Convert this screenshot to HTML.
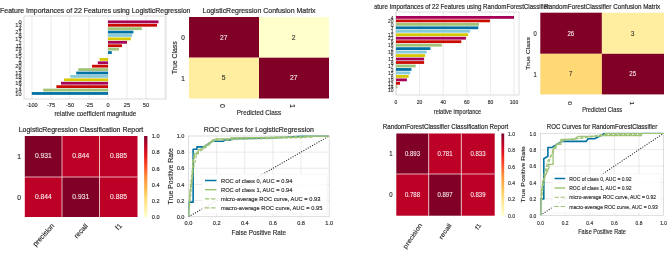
<!DOCTYPE html>
<html><head><meta charset="utf-8"><title>Model comparison</title>
<style>
html,body{margin:0;padding:0;background:#fff;}
body{width:669px;height:253px;overflow:hidden;}
svg{display:block;font-family:"Liberation Sans",sans-serif;filter:blur(0.7px);}
text{stroke:#2a2a2a;stroke-width:0.16px;stroke-opacity:0.9;}
text[font-size="7.9"]{stroke-width:0.22px;}
text[fill="#ffffff"]{stroke:#ffffff;stroke-opacity:0.7;}
</style></head><body>
<svg width="669" height="253" viewBox="0 0 669 253">
<rect width="669" height="253" fill="#ffffff"/>
<line x1="32.00" y1="16.00" x2="32.00" y2="99.00" stroke="#dcdcdc" stroke-width="0.6" />
<line x1="51.00" y1="16.00" x2="51.00" y2="99.00" stroke="#dcdcdc" stroke-width="0.6" />
<line x1="70.00" y1="16.00" x2="70.00" y2="99.00" stroke="#dcdcdc" stroke-width="0.6" />
<line x1="89.00" y1="16.00" x2="89.00" y2="99.00" stroke="#dcdcdc" stroke-width="0.6" />
<line x1="108.00" y1="16.00" x2="108.00" y2="99.00" stroke="#dcdcdc" stroke-width="0.6" />
<line x1="127.00" y1="16.00" x2="127.00" y2="99.00" stroke="#dcdcdc" stroke-width="0.6" />
<line x1="146.00" y1="16.00" x2="146.00" y2="99.00" stroke="#dcdcdc" stroke-width="0.6" />
<line x1="165.00" y1="16.00" x2="165.00" y2="99.00" stroke="#dcdcdc" stroke-width="0.6" />
<rect x="24.00" y="16.00" width="142.00" height="83.00" fill="none" stroke="#cfcfcf" stroke-width="0.7"/>
<rect x="108.00" y="20.45" width="50.50" height="2.80" fill="#a50258" />
<rect x="108.00" y="23.86" width="49.00" height="2.80" fill="#ca0b03" />
<rect x="108.00" y="27.27" width="33.80" height="2.80" fill="#9fc377" />
<rect x="108.00" y="30.68" width="25.40" height="2.80" fill="#0272a2" />
<rect x="108.00" y="34.09" width="24.10" height="2.80" fill="#88cada" />
<rect x="108.00" y="37.50" width="22.90" height="2.80" fill="#d7c703" />
<rect x="108.00" y="40.91" width="19.00" height="2.80" fill="#a50258" />
<rect x="108.00" y="44.32" width="14.00" height="2.80" fill="#ca0b03" />
<rect x="108.00" y="47.73" width="11.00" height="2.80" fill="#9fc377" />
<rect x="108.00" y="51.14" width="3.80" height="2.80" fill="#0272a2" />
<rect x="99.60" y="57.96" width="8.40" height="2.80" fill="#d7c703" />
<rect x="97.80" y="61.37" width="10.20" height="2.80" fill="#a50258" />
<rect x="92.00" y="64.78" width="16.00" height="2.80" fill="#ca0b03" />
<rect x="78.30" y="68.19" width="29.70" height="2.80" fill="#9fc377" />
<rect x="76.20" y="71.60" width="31.80" height="2.80" fill="#0272a2" />
<rect x="70.40" y="75.01" width="37.60" height="2.80" fill="#88cada" />
<rect x="64.00" y="78.42" width="44.00" height="2.80" fill="#d7c703" />
<rect x="61.00" y="81.83" width="47.00" height="2.80" fill="#a50258" />
<rect x="56.40" y="85.24" width="51.60" height="2.80" fill="#ca0b03" />
<rect x="43.20" y="88.65" width="64.80" height="2.80" fill="#9fc377" />
<rect x="31.80" y="92.06" width="76.20" height="2.80" fill="#0272a2" />
<text transform="translate(32.00,107.20) scale(0.92,1)" font-size="6.1" text-anchor="middle" fill="#2a2a2a" >-100</text>
<text transform="translate(51.00,107.20) scale(0.92,1)" font-size="6.1" text-anchor="middle" fill="#2a2a2a" >-75</text>
<text transform="translate(70.00,107.20) scale(0.92,1)" font-size="6.1" text-anchor="middle" fill="#2a2a2a" >-50</text>
<text transform="translate(89.00,107.20) scale(0.92,1)" font-size="6.1" text-anchor="middle" fill="#2a2a2a" >-25</text>
<text transform="translate(108.00,107.20) scale(0.92,1)" font-size="6.1" text-anchor="middle" fill="#2a2a2a" >0</text>
<text transform="translate(127.00,107.20) scale(0.92,1)" font-size="6.1" text-anchor="middle" fill="#2a2a2a" >25</text>
<text transform="translate(146.00,107.20) scale(0.92,1)" font-size="6.1" text-anchor="middle" fill="#2a2a2a" >50</text>
<text transform="translate(95.40,116.48) scale(0.92,1)" font-size="6.9" text-anchor="middle" fill="#2a2a2a" >relative coefficient magnitude</text>
<text transform="translate(95.30,13.00) scale(0.8827341772151899,1)" font-size="7.9" text-anchor="middle" fill="#2a2a2a" >Feature Importances of 22 Features using LogisticRegression</text>
<text transform="translate(21.60,24.05) scale(0.92,1)" font-size="6.1" text-anchor="end" fill="#2a2a2a" fill-opacity="0.9" style="stroke-width:0.14px">0</text>
<text transform="translate(21.60,27.46) scale(0.92,1)" font-size="6.1" text-anchor="end" fill="#2a2a2a" fill-opacity="0.9" style="stroke-width:0.14px">13</text>
<text transform="translate(21.60,30.87) scale(0.92,1)" font-size="6.1" text-anchor="end" fill="#2a2a2a" fill-opacity="0.9" style="stroke-width:0.14px">4</text>
<text transform="translate(21.60,34.28) scale(0.92,1)" font-size="6.1" text-anchor="end" fill="#2a2a2a" fill-opacity="0.9" style="stroke-width:0.14px">21</text>
<text transform="translate(21.60,37.69) scale(0.92,1)" font-size="6.1" text-anchor="end" fill="#2a2a2a" fill-opacity="0.9" style="stroke-width:0.14px">8</text>
<text transform="translate(21.60,41.10) scale(0.92,1)" font-size="6.1" text-anchor="end" fill="#2a2a2a" fill-opacity="0.9" style="stroke-width:0.14px">17</text>
<text transform="translate(21.60,44.51) scale(0.92,1)" font-size="6.1" text-anchor="end" fill="#2a2a2a" fill-opacity="0.9" style="stroke-width:0.14px">2</text>
<text transform="translate(21.60,47.92) scale(0.92,1)" font-size="6.1" text-anchor="end" fill="#2a2a2a" fill-opacity="0.9" style="stroke-width:0.14px">11</text>
<text transform="translate(21.60,51.33) scale(0.92,1)" font-size="6.1" text-anchor="end" fill="#2a2a2a" fill-opacity="0.9" style="stroke-width:0.14px">19</text>
<text transform="translate(21.60,54.74) scale(0.92,1)" font-size="6.1" text-anchor="end" fill="#2a2a2a" fill-opacity="0.9" style="stroke-width:0.14px">6</text>
<text transform="translate(21.60,58.15) scale(0.92,1)" font-size="6.1" text-anchor="end" fill="#2a2a2a" fill-opacity="0.9" style="stroke-width:0.14px">15</text>
<text transform="translate(21.60,61.56) scale(0.92,1)" font-size="6.1" text-anchor="end" fill="#2a2a2a" fill-opacity="0.9" style="stroke-width:0.14px">1</text>
<text transform="translate(21.60,64.97) scale(0.92,1)" font-size="6.1" text-anchor="end" fill="#2a2a2a" fill-opacity="0.9" style="stroke-width:0.14px">9</text>
<text transform="translate(21.60,68.38) scale(0.92,1)" font-size="6.1" text-anchor="end" fill="#2a2a2a" fill-opacity="0.9" style="stroke-width:0.14px">20</text>
<text transform="translate(21.60,71.79) scale(0.92,1)" font-size="6.1" text-anchor="end" fill="#2a2a2a" fill-opacity="0.9" style="stroke-width:0.14px">5</text>
<text transform="translate(21.60,75.20) scale(0.92,1)" font-size="6.1" text-anchor="end" fill="#2a2a2a" fill-opacity="0.9" style="stroke-width:0.14px">12</text>
<text transform="translate(21.60,78.61) scale(0.92,1)" font-size="6.1" text-anchor="end" fill="#2a2a2a" fill-opacity="0.9" style="stroke-width:0.14px">18</text>
<text transform="translate(21.60,82.02) scale(0.92,1)" font-size="6.1" text-anchor="end" fill="#2a2a2a" fill-opacity="0.9" style="stroke-width:0.14px">3</text>
<text transform="translate(21.60,85.43) scale(0.92,1)" font-size="6.1" text-anchor="end" fill="#2a2a2a" fill-opacity="0.9" style="stroke-width:0.14px">16</text>
<text transform="translate(21.60,88.84) scale(0.92,1)" font-size="6.1" text-anchor="end" fill="#2a2a2a" fill-opacity="0.9" style="stroke-width:0.14px">7</text>
<text transform="translate(21.60,92.25) scale(0.92,1)" font-size="6.1" text-anchor="end" fill="#2a2a2a" fill-opacity="0.9" style="stroke-width:0.14px">14</text>
<text transform="translate(21.60,95.66) scale(0.92,1)" font-size="6.1" text-anchor="end" fill="#2a2a2a" fill-opacity="0.9" style="stroke-width:0.14px">10</text>
<rect x="189.00" y="17.00" width="70.00" height="40.70" fill="#800026" />
<rect x="259.00" y="17.00" width="70.00" height="40.70" fill="#ffffcc" />
<rect x="189.00" y="57.70" width="70.00" height="40.80" fill="#ffeda0" />
<rect x="259.00" y="57.70" width="70.00" height="40.80" fill="#800026" />
<text transform="translate(223.70,39.66) scale(0.8648,1)" font-size="7.8" text-anchor="middle" fill="#ffffff" fill-opacity="0.88">27</text>
<text transform="translate(293.70,39.66) scale(0.8648,1)" font-size="7.8" text-anchor="middle" fill="#222" fill-opacity="0.88">2</text>
<text transform="translate(223.70,80.41) scale(0.8648,1)" font-size="7.8" text-anchor="middle" fill="#222" fill-opacity="0.88">5</text>
<text transform="translate(293.70,80.41) scale(0.8648,1)" font-size="7.8" text-anchor="middle" fill="#ffffff" fill-opacity="0.88">27</text>
<text transform="translate(259.00,13.00) scale(0.8827341772151899,1)" font-size="7.9" text-anchor="middle" fill="#2a2a2a" >LogisticRegression Confusion Matrix</text>
<text transform="translate(183.00,39.87) scale(0.92,1)" font-size="7.0" text-anchor="middle" fill="#2a2a2a" >0</text>
<text transform="translate(183.00,80.62) scale(0.92,1)" font-size="7.0" text-anchor="middle" fill="#2a2a2a" >1</text>
<text transform="translate(175.00,57.75) rotate(-90) scale(1,0.92)" font-size="6.9" text-anchor="middle" fill="#2a2a2a" dy="2.4">True Class</text>
<text transform="translate(222.71,106.00) rotate(90) scale(1,0.92)" font-size="7.0" text-anchor="middle" fill="#2a2a2a" dy="2.5">0</text>
<text transform="translate(292.71,106.00) rotate(90) scale(1,0.92)" font-size="7.0" text-anchor="middle" fill="#2a2a2a" dy="2.5">1</text>
<text transform="translate(259.00,114.88) scale(0.92,1)" font-size="6.9" text-anchor="middle" fill="#2a2a2a" >Predicted Class</text>
<rect x="24.80" y="136.00" width="37.20" height="41.00" fill="#800026" />
<text transform="translate(43.40,158.41) scale(0.8648,1)" font-size="7.8" text-anchor="middle" fill="#ffffff" fill-opacity="0.88">0.931</text>
<rect x="62.00" y="136.00" width="37.50" height="41.00" fill="#bd0026" />
<text transform="translate(80.75,158.41) scale(0.8648,1)" font-size="7.8" text-anchor="middle" fill="#ffffff" fill-opacity="0.88">0.844</text>
<rect x="99.50" y="136.00" width="38.00" height="41.00" fill="#bd0026" />
<text transform="translate(118.50,158.41) scale(0.8648,1)" font-size="7.8" text-anchor="middle" fill="#ffffff" fill-opacity="0.88">0.885</text>
<rect x="24.80" y="177.00" width="37.20" height="40.00" fill="#bd0026" />
<text transform="translate(43.40,198.91) scale(0.8648,1)" font-size="7.8" text-anchor="middle" fill="#ffffff" fill-opacity="0.88">0.844</text>
<rect x="62.00" y="177.00" width="37.50" height="40.00" fill="#800026" />
<text transform="translate(80.75,198.91) scale(0.8648,1)" font-size="7.8" text-anchor="middle" fill="#ffffff" fill-opacity="0.88">0.931</text>
<rect x="99.50" y="177.00" width="38.00" height="40.00" fill="#bd0026" />
<text transform="translate(118.50,198.91) scale(0.8648,1)" font-size="7.8" text-anchor="middle" fill="#ffffff" fill-opacity="0.88">0.885</text>
<line x1="62.00" y1="136.00" x2="62.00" y2="217.00" stroke="#f3d9dc" stroke-width="0.8" />
<line x1="99.50" y1="136.00" x2="99.50" y2="217.00" stroke="#f3d9dc" stroke-width="0.8" />
<line x1="24.80" y1="177.00" x2="137.50" y2="177.00" stroke="#f3d9dc" stroke-width="0.8" />
<text transform="translate(81.00,132.00) scale(0.8827341772151899,1)" font-size="7.9" text-anchor="middle" fill="#2a2a2a" >LogisticRegression Classification Report</text>
<text transform="translate(19.00,159.13) scale(0.92,1)" font-size="7.3" text-anchor="middle" fill="#2a2a2a" >1</text>
<text transform="translate(19.00,199.63) scale(0.92,1)" font-size="7.3" text-anchor="middle" fill="#2a2a2a" >0</text>
<linearGradient id="cb24" x1="0" y1="0" x2="0" y2="1"><stop offset="0.000" stop-color="#800026"/><stop offset="0.125" stop-color="#bd0026"/><stop offset="0.250" stop-color="#e31a1c"/><stop offset="0.375" stop-color="#fc4e2a"/><stop offset="0.500" stop-color="#fd8d3c"/><stop offset="0.625" stop-color="#feb24c"/><stop offset="0.750" stop-color="#fed976"/><stop offset="0.875" stop-color="#ffeda0"/><stop offset="1.000" stop-color="#ffffcc"/></linearGradient>
<rect x="144.10" y="136.00" width="3.30" height="81.00" fill="url(#cb24)" />
<text transform="translate(151.80,219.20) scale(0.92,1)" font-size="6.1" text-anchor="start" fill="#2a2a2a" >0.0</text>
<text transform="translate(151.80,203.00) scale(0.92,1)" font-size="6.1" text-anchor="start" fill="#2a2a2a" >0.2</text>
<text transform="translate(151.80,186.80) scale(0.92,1)" font-size="6.1" text-anchor="start" fill="#2a2a2a" >0.4</text>
<text transform="translate(151.80,170.60) scale(0.92,1)" font-size="6.1" text-anchor="start" fill="#2a2a2a" >0.6</text>
<text transform="translate(151.80,154.40) scale(0.92,1)" font-size="6.1" text-anchor="start" fill="#2a2a2a" >0.8</text>
<text transform="translate(151.80,138.20) scale(0.92,1)" font-size="6.1" text-anchor="start" fill="#2a2a2a" >1.0</text>
<text transform="translate(43.40,234.83) rotate(-47.4) scale(0.961,0.958)" font-size="7.3" text-anchor="middle" fill="#2a2a2a" dy="2.6">precision</text>
<text transform="translate(80.75,230.83) rotate(-47.4) scale(0.961,0.958)" font-size="7.3" text-anchor="middle" fill="#2a2a2a" dy="2.6">recall</text>
<text transform="translate(118.50,226.67) rotate(-47.4) scale(0.961,0.958)" font-size="7.3" text-anchor="middle" fill="#2a2a2a" dy="2.6">f1</text>
<line x1="216.64" y1="136.00" x2="216.64" y2="216.70" stroke="#dcdcdc" stroke-width="0.6" />
<line x1="188.50" y1="152.14" x2="329.20" y2="152.14" stroke="#dcdcdc" stroke-width="0.6" />
<line x1="244.78" y1="136.00" x2="244.78" y2="216.70" stroke="#dcdcdc" stroke-width="0.6" />
<line x1="188.50" y1="168.28" x2="329.20" y2="168.28" stroke="#dcdcdc" stroke-width="0.6" />
<line x1="272.92" y1="136.00" x2="272.92" y2="216.70" stroke="#dcdcdc" stroke-width="0.6" />
<line x1="188.50" y1="184.42" x2="329.20" y2="184.42" stroke="#dcdcdc" stroke-width="0.6" />
<line x1="301.06" y1="136.00" x2="301.06" y2="216.70" stroke="#dcdcdc" stroke-width="0.6" />
<line x1="188.50" y1="200.56" x2="329.20" y2="200.56" stroke="#dcdcdc" stroke-width="0.6" />
<rect x="188.50" y="136.00" width="140.70" height="80.70" fill="none" stroke="#cfcfcf" stroke-width="0.7"/>
<clipPath id="clip188"><rect x="188.5" y="135.4" width="140.7" height="81.29999999999998"/></clipPath><g clip-path="url(#clip188)">
<line x1="188.50" y1="216.70" x2="329.20" y2="136.00" stroke="#1a1a1a" stroke-width="1.05" stroke-dasharray="1.0 1.5"/>
<path d="M188.50,216.70 L188.50,202.17 L193.14,202.17 L193.14,149.32 L196.94,149.32 L196.94,146.89 L203.98,146.89 L206.79,144.88 L212.42,141.25 L223.68,141.25 L223.68,140.03 L230.71,140.03 L230.71,138.82 L258.85,138.26 L286.99,137.21 L301.06,136.00 L329.20,136.00" fill="none" stroke="#0272a2" stroke-width="1.6"  opacity="1" stroke-linejoin="round"/>
<path d="M188.50,216.70 L189.91,192.49 L192.44,176.35 L192.72,160.21 L194.13,158.60 L194.13,153.75 L198.35,153.75 L198.35,149.72 L202.57,148.91 L205.38,145.68 L209.60,144.07 L212.42,140.03 L216.64,138.82 L230.71,138.82 L230.71,138.02 L258.85,137.61 L303.87,137.21 L304.58,136.00 L329.20,136.00" fill="none" stroke="#9fc377" stroke-width="1.3"  opacity="1" stroke-linejoin="round"/>
<path d="M188.50,216.70 L190.61,184.42 L192.72,166.67 L194.13,156.18 L198.35,152.14 L202.57,147.30 L209.60,142.46 L216.64,140.44 L244.78,139.23 L286.99,138.02 L312.32,137.21 L315.13,136.00 L329.20,136.00" fill="none" stroke="#9fc377" stroke-width="1.25" stroke-dasharray="3.4 1.5" opacity="0.95" stroke-linejoin="round"/>
<path d="M188.50,216.70 L191.31,188.45 L193.42,168.28 L195.53,160.21 L196.94,152.14 L201.16,150.53 L208.20,145.68 L213.83,139.63 L230.71,138.42 L272.92,137.21 L309.50,136.40 L315.13,136.00 L329.20,136.00" fill="none" stroke="#9fc377" stroke-width="1.25" stroke-dasharray="3.4 1.5" opacity="0.95" stroke-linejoin="round"/>
</g>
<text transform="translate(184.50,218.90) scale(0.92,1)" font-size="6.1" text-anchor="end" fill="#2a2a2a" >0.0</text>
<text transform="translate(188.50,225.20) scale(0.92,1)" font-size="6.1" text-anchor="middle" fill="#2a2a2a" >0.0</text>
<text transform="translate(184.50,202.76) scale(0.92,1)" font-size="6.1" text-anchor="end" fill="#2a2a2a" >0.2</text>
<text transform="translate(216.64,225.20) scale(0.92,1)" font-size="6.1" text-anchor="middle" fill="#2a2a2a" >0.2</text>
<text transform="translate(184.50,186.62) scale(0.92,1)" font-size="6.1" text-anchor="end" fill="#2a2a2a" >0.4</text>
<text transform="translate(244.78,225.20) scale(0.92,1)" font-size="6.1" text-anchor="middle" fill="#2a2a2a" >0.4</text>
<text transform="translate(184.50,170.48) scale(0.92,1)" font-size="6.1" text-anchor="end" fill="#2a2a2a" >0.6</text>
<text transform="translate(272.92,225.20) scale(0.92,1)" font-size="6.1" text-anchor="middle" fill="#2a2a2a" >0.6</text>
<text transform="translate(184.50,154.34) scale(0.92,1)" font-size="6.1" text-anchor="end" fill="#2a2a2a" >0.8</text>
<text transform="translate(301.06,225.20) scale(0.92,1)" font-size="6.1" text-anchor="middle" fill="#2a2a2a" >0.8</text>
<text transform="translate(184.50,138.20) scale(0.92,1)" font-size="6.1" text-anchor="end" fill="#2a2a2a" >1.0</text>
<text transform="translate(329.20,225.20) scale(0.92,1)" font-size="6.1" text-anchor="middle" fill="#2a2a2a" >1.0</text>
<text transform="translate(258.85,132.00) scale(0.8827341772151899,1)" font-size="7.9" text-anchor="middle" fill="#2a2a2a" >ROC Curves for LogisticRegression</text>
<text transform="translate(258.85,235.48) scale(0.92,1)" font-size="6.9" text-anchor="middle" fill="#2a2a2a" >False Positive Rate</text>
<text transform="translate(170.60,176.35) rotate(-90) scale(1,0.92)" font-size="6.9" text-anchor="middle" fill="#2a2a2a" dy="2.4">True Positive Rate</text>
<rect x="202" y="174" width="125.30000000000001" height="40" fill="#ffffff" fill-opacity="0.85" stroke="#ececec" stroke-width="0.5" rx="1"/>
<line x1="205" y1="180.5" x2="216.5" y2="180.5" stroke="#0272a2" stroke-width="1.5" />
<text transform="translate(221.00,182.75) scale(0.92,1)" font-size="6.25" text-anchor="start" fill="#2a2a2a" >ROC of class 0, AUC = 0.94</text>
<line x1="205" y1="189.7" x2="216.5" y2="189.7" stroke="#9fc377" stroke-width="1.4" />
<text transform="translate(221.00,191.95) scale(0.92,1)" font-size="6.25" text-anchor="start" fill="#2a2a2a" >ROC of class 1, AUC = 0.94</text>
<line x1="205" y1="198.8" x2="216.5" y2="198.8" stroke="#9fc377" stroke-width="1.15" stroke-dasharray="4.3 1.8"/>
<text transform="translate(221.00,201.05) scale(0.92,1)" font-size="6.25" text-anchor="start" fill="#2a2a2a" >micro-average ROC curve, AUC = 0.93</text>
<line x1="205" y1="207.9" x2="216.5" y2="207.9" stroke="#9fc377" stroke-width="1.15" stroke-dasharray="4.3 1.8"/>
<text transform="translate(221.00,210.15) scale(0.92,1)" font-size="6.25" text-anchor="start" fill="#2a2a2a" >macro-average ROC curve, AUC = 0.95</text>
<clipPath id="clipT"><rect x="374.45" y="0" width="300" height="12"/></clipPath>
<line x1="396.00" y1="12.00" x2="396.00" y2="95.00" stroke="#dcdcdc" stroke-width="0.6" />
<line x1="419.60" y1="12.00" x2="419.60" y2="95.00" stroke="#dcdcdc" stroke-width="0.6" />
<line x1="443.20" y1="12.00" x2="443.20" y2="95.00" stroke="#dcdcdc" stroke-width="0.6" />
<line x1="466.80" y1="12.00" x2="466.80" y2="95.00" stroke="#dcdcdc" stroke-width="0.6" />
<line x1="490.40" y1="12.00" x2="490.40" y2="95.00" stroke="#dcdcdc" stroke-width="0.6" />
<line x1="514.00" y1="12.00" x2="514.00" y2="95.00" stroke="#dcdcdc" stroke-width="0.6" />
<rect x="396.00" y="12.00" width="123.00" height="83.00" fill="none" stroke="#cfcfcf" stroke-width="0.7"/>
<rect x="396.00" y="16.00" width="118.00" height="2.80" fill="#a50258" />
<rect x="396.00" y="19.47" width="93.90" height="2.80" fill="#ca0b03" />
<rect x="396.00" y="22.94" width="83.00" height="2.80" fill="#9fc377" />
<rect x="396.00" y="26.41" width="82.30" height="2.80" fill="#0272a2" />
<rect x="396.00" y="29.88" width="74.20" height="2.80" fill="#88cada" />
<rect x="396.00" y="33.35" width="72.20" height="2.80" fill="#d7c703" />
<rect x="396.00" y="36.82" width="69.90" height="2.80" fill="#a50258" />
<rect x="396.00" y="40.29" width="65.30" height="2.80" fill="#ca0b03" />
<rect x="396.00" y="43.76" width="45.80" height="2.80" fill="#9fc377" />
<rect x="396.00" y="47.23" width="34.40" height="2.80" fill="#0272a2" />
<rect x="396.00" y="50.70" width="30.60" height="2.80" fill="#88cada" />
<rect x="396.00" y="54.17" width="29.10" height="2.80" fill="#d7c703" />
<rect x="396.00" y="57.64" width="28.10" height="2.80" fill="#a50258" />
<rect x="396.00" y="61.11" width="28.10" height="2.80" fill="#ca0b03" />
<rect x="396.00" y="64.58" width="19.70" height="2.80" fill="#9fc377" />
<rect x="396.00" y="68.05" width="15.40" height="2.80" fill="#0272a2" />
<rect x="396.00" y="71.52" width="14.20" height="2.80" fill="#88cada" />
<rect x="396.00" y="74.99" width="12.70" height="2.80" fill="#d7c703" />
<rect x="396.00" y="78.46" width="10.90" height="2.80" fill="#a50258" />
<rect x="396.00" y="81.93" width="4.00" height="2.80" fill="#ca0b03" />
<rect x="396.00" y="85.40" width="1.50" height="2.80" fill="#9fc377" />
<text transform="translate(396.00,103.80) scale(0.81466,1)" font-size="6.1" text-anchor="middle" fill="#2a2a2a" >0</text>
<text transform="translate(419.60,103.80) scale(0.81466,1)" font-size="6.1" text-anchor="middle" fill="#2a2a2a" >20</text>
<text transform="translate(443.20,103.80) scale(0.81466,1)" font-size="6.1" text-anchor="middle" fill="#2a2a2a" >40</text>
<text transform="translate(466.80,103.80) scale(0.81466,1)" font-size="6.1" text-anchor="middle" fill="#2a2a2a" >60</text>
<text transform="translate(490.40,103.80) scale(0.81466,1)" font-size="6.1" text-anchor="middle" fill="#2a2a2a" >80</text>
<text transform="translate(514.00,103.80) scale(0.81466,1)" font-size="6.1" text-anchor="middle" fill="#2a2a2a" >100</text>
<text transform="translate(457.50,113.98) scale(0.81466,1)" font-size="6.9" text-anchor="middle" fill="#2a2a2a" >relative importance</text>
<g clip-path="url(#clipT)">
<text transform="translate(457.90,8.60) scale(0.7816611139240507,1)" font-size="7.9" text-anchor="middle" fill="#2a2a2a" >Feature Importances of 22 Features using RandomForestClassifier</text>
</g>
<text transform="translate(393.40,19.60) scale(0.81466,1)" font-size="6.1" text-anchor="end" fill="#2a2a2a" fill-opacity="0.9" style="stroke-width:0.14px">4</text>
<text transform="translate(393.40,23.07) scale(0.81466,1)" font-size="6.1" text-anchor="end" fill="#2a2a2a" fill-opacity="0.9" style="stroke-width:0.14px">20</text>
<text transform="translate(393.40,26.54) scale(0.81466,1)" font-size="6.1" text-anchor="end" fill="#2a2a2a" fill-opacity="0.9" style="stroke-width:0.14px">0</text>
<text transform="translate(393.40,30.01) scale(0.81466,1)" font-size="6.1" text-anchor="end" fill="#2a2a2a" fill-opacity="0.9" style="stroke-width:0.14px">7</text>
<text transform="translate(393.40,33.48) scale(0.81466,1)" font-size="6.1" text-anchor="end" fill="#2a2a2a" fill-opacity="0.9" style="stroke-width:0.14px">1</text>
<text transform="translate(393.40,36.95) scale(0.81466,1)" font-size="6.1" text-anchor="end" fill="#2a2a2a" fill-opacity="0.9" style="stroke-width:0.14px">13</text>
<text transform="translate(393.40,40.42) scale(0.81466,1)" font-size="6.1" text-anchor="end" fill="#2a2a2a" fill-opacity="0.9" style="stroke-width:0.14px">21</text>
<text transform="translate(393.40,43.89) scale(0.81466,1)" font-size="6.1" text-anchor="end" fill="#2a2a2a" fill-opacity="0.9" style="stroke-width:0.14px">9</text>
<text transform="translate(393.40,47.36) scale(0.81466,1)" font-size="6.1" text-anchor="end" fill="#2a2a2a" fill-opacity="0.9" style="stroke-width:0.14px">16</text>
<text transform="translate(393.40,50.83) scale(0.81466,1)" font-size="6.1" text-anchor="end" fill="#2a2a2a" fill-opacity="0.9" style="stroke-width:0.14px">2</text>
<text transform="translate(393.40,54.30) scale(0.81466,1)" font-size="6.1" text-anchor="end" fill="#2a2a2a" fill-opacity="0.9" style="stroke-width:0.14px">18</text>
<text transform="translate(393.40,57.77) scale(0.81466,1)" font-size="6.1" text-anchor="end" fill="#2a2a2a" fill-opacity="0.9" style="stroke-width:0.14px">5</text>
<text transform="translate(393.40,61.24) scale(0.81466,1)" font-size="6.1" text-anchor="end" fill="#2a2a2a" fill-opacity="0.9" style="stroke-width:0.14px">11</text>
<text transform="translate(393.40,64.71) scale(0.81466,1)" font-size="6.1" text-anchor="end" fill="#2a2a2a" fill-opacity="0.9" style="stroke-width:0.14px">8</text>
<text transform="translate(393.40,68.18) scale(0.81466,1)" font-size="6.1" text-anchor="end" fill="#2a2a2a" fill-opacity="0.9" style="stroke-width:0.14px">17</text>
<text transform="translate(393.40,71.65) scale(0.81466,1)" font-size="6.1" text-anchor="end" fill="#2a2a2a" fill-opacity="0.9" style="stroke-width:0.14px">3</text>
<text transform="translate(393.40,75.12) scale(0.81466,1)" font-size="6.1" text-anchor="end" fill="#2a2a2a" fill-opacity="0.9" style="stroke-width:0.14px">15</text>
<text transform="translate(393.40,78.59) scale(0.81466,1)" font-size="6.1" text-anchor="end" fill="#2a2a2a" fill-opacity="0.9" style="stroke-width:0.14px">6</text>
<text transform="translate(393.40,82.06) scale(0.81466,1)" font-size="6.1" text-anchor="end" fill="#2a2a2a" fill-opacity="0.9" style="stroke-width:0.14px">19</text>
<text transform="translate(393.40,85.53) scale(0.81466,1)" font-size="6.1" text-anchor="end" fill="#2a2a2a" fill-opacity="0.9" style="stroke-width:0.14px">12</text>
<text transform="translate(393.40,89.00) scale(0.81466,1)" font-size="6.1" text-anchor="end" fill="#2a2a2a" fill-opacity="0.9" style="stroke-width:0.14px">14</text>
<text transform="translate(393.40,92.47) scale(0.81466,1)" font-size="6.1" text-anchor="end" fill="#2a2a2a" fill-opacity="0.9" style="stroke-width:0.14px">10</text>
<rect x="540.30" y="12.70" width="61.60" height="41.10" fill="#800026" />
<rect x="601.90" y="12.70" width="62.10" height="41.10" fill="#ffeda0" />
<rect x="540.30" y="53.80" width="61.60" height="40.60" fill="#fed976" />
<rect x="601.90" y="53.80" width="62.10" height="40.60" fill="#800026" />
<text transform="translate(570.80,35.56) scale(0.779401,1)" font-size="7.8" text-anchor="middle" fill="#ffffff" fill-opacity="0.88">26</text>
<text transform="translate(632.65,35.56) scale(0.779401,1)" font-size="7.8" text-anchor="middle" fill="#222" fill-opacity="0.88">3</text>
<text transform="translate(570.80,76.41) scale(0.779401,1)" font-size="7.8" text-anchor="middle" fill="#222" fill-opacity="0.88">7</text>
<text transform="translate(632.65,76.41) scale(0.779401,1)" font-size="7.8" text-anchor="middle" fill="#ffffff" fill-opacity="0.88">25</text>
<text transform="translate(602.15,8.60) scale(0.7955641772151899,1)" font-size="7.9" text-anchor="middle" fill="#2a2a2a" >RandomForestClassifier Confusion Matrix</text>
<text transform="translate(535.00,35.77) scale(0.82915,1)" font-size="7.0" text-anchor="middle" fill="#2a2a2a" >0</text>
<text transform="translate(535.00,76.62) scale(0.82915,1)" font-size="7.0" text-anchor="middle" fill="#2a2a2a" >1</text>
<text transform="translate(528.00,53.55) rotate(-90) scale(1,0.82915)" font-size="6.9" text-anchor="middle" fill="#2a2a2a" dy="2.4">True Class</text>
<text transform="translate(569.94,103.30) rotate(90) scale(1,0.82915)" font-size="7.0" text-anchor="middle" fill="#2a2a2a" dy="2.5">0</text>
<text transform="translate(631.79,103.30) rotate(90) scale(1,0.82915)" font-size="7.0" text-anchor="middle" fill="#2a2a2a" dy="2.5">1</text>
<text transform="translate(602.15,112.18) scale(0.82915,1)" font-size="6.9" text-anchor="middle" fill="#2a2a2a" >Predicted Class</text>
<rect x="396.30" y="133.50" width="32.40" height="40.50" fill="#800026" />
<text transform="translate(412.50,155.66) scale(0.771834,1)" font-size="7.8" text-anchor="middle" fill="#ffffff" fill-opacity="0.88">0.893</text>
<rect x="428.70" y="133.50" width="32.60" height="40.50" fill="#bd0026" />
<text transform="translate(445.00,155.66) scale(0.771834,1)" font-size="7.8" text-anchor="middle" fill="#ffffff" fill-opacity="0.88">0.781</text>
<rect x="461.30" y="133.50" width="33.40" height="40.50" fill="#bd0026" />
<text transform="translate(478.00,155.66) scale(0.771834,1)" font-size="7.8" text-anchor="middle" fill="#ffffff" fill-opacity="0.88">0.833</text>
<rect x="396.30" y="174.00" width="32.40" height="41.70" fill="#bd0026" />
<text transform="translate(412.50,196.76) scale(0.771834,1)" font-size="7.8" text-anchor="middle" fill="#ffffff" fill-opacity="0.88">0.788</text>
<rect x="428.70" y="174.00" width="32.60" height="41.70" fill="#800026" />
<text transform="translate(445.00,196.76) scale(0.771834,1)" font-size="7.8" text-anchor="middle" fill="#ffffff" fill-opacity="0.88">0.897</text>
<rect x="461.30" y="174.00" width="33.40" height="41.70" fill="#bd0026" />
<text transform="translate(478.00,196.76) scale(0.771834,1)" font-size="7.8" text-anchor="middle" fill="#ffffff" fill-opacity="0.88">0.839</text>
<line x1="428.70" y1="133.50" x2="428.70" y2="215.70" stroke="#f3d9dc" stroke-width="0.8" />
<line x1="461.30" y1="133.50" x2="461.30" y2="215.70" stroke="#f3d9dc" stroke-width="0.8" />
<line x1="396.30" y1="174.00" x2="494.70" y2="174.00" stroke="#f3d9dc" stroke-width="0.8" />
<text transform="translate(445.50,129.40) scale(0.787840253164557,1)" font-size="7.9" text-anchor="middle" fill="#2a2a2a" >RandomForestClassifier Classification Report</text>
<text transform="translate(391.00,156.38) scale(0.8211,1)" font-size="7.3" text-anchor="middle" fill="#2a2a2a" >1</text>
<text transform="translate(391.00,197.48) scale(0.8211,1)" font-size="7.3" text-anchor="middle" fill="#2a2a2a" >0</text>
<linearGradient id="cb396" x1="0" y1="0" x2="0" y2="1"><stop offset="0.000" stop-color="#800026"/><stop offset="0.125" stop-color="#bd0026"/><stop offset="0.250" stop-color="#e31a1c"/><stop offset="0.375" stop-color="#fc4e2a"/><stop offset="0.500" stop-color="#fd8d3c"/><stop offset="0.625" stop-color="#feb24c"/><stop offset="0.750" stop-color="#fed976"/><stop offset="0.875" stop-color="#ffeda0"/><stop offset="1.000" stop-color="#ffffcc"/></linearGradient>
<rect x="501.40" y="133.50" width="2.80" height="82.20" fill="url(#cb396)" />
<text transform="translate(508.00,217.90) scale(0.8211,1)" font-size="6.1" text-anchor="start" fill="#2a2a2a" >0.0</text>
<text transform="translate(508.00,201.46) scale(0.8211,1)" font-size="6.1" text-anchor="start" fill="#2a2a2a" >0.2</text>
<text transform="translate(508.00,185.02) scale(0.8211,1)" font-size="6.1" text-anchor="start" fill="#2a2a2a" >0.4</text>
<text transform="translate(508.00,168.58) scale(0.8211,1)" font-size="6.1" text-anchor="start" fill="#2a2a2a" >0.6</text>
<text transform="translate(508.00,152.14) scale(0.8211,1)" font-size="6.1" text-anchor="start" fill="#2a2a2a" >0.8</text>
<text transform="translate(508.00,135.70) scale(0.8211,1)" font-size="6.1" text-anchor="start" fill="#2a2a2a" >1.0</text>
<text transform="translate(412.50,235.91) rotate(-55.5) scale(1.000,0.860)" font-size="7.3" text-anchor="middle" fill="#2a2a2a" dy="2.6">precision</text>
<text transform="translate(445.00,231.25) rotate(-55.5) scale(1.000,0.860)" font-size="7.3" text-anchor="middle" fill="#2a2a2a" dy="2.6">recall</text>
<text transform="translate(478.00,226.41) rotate(-55.5) scale(1.000,0.860)" font-size="7.3" text-anchor="middle" fill="#2a2a2a" dy="2.6">f1</text>
<line x1="565.12" y1="133.30" x2="565.12" y2="215.30" stroke="#dcdcdc" stroke-width="0.6" />
<line x1="540.50" y1="149.70" x2="663.60" y2="149.70" stroke="#dcdcdc" stroke-width="0.6" />
<line x1="589.74" y1="133.30" x2="589.74" y2="215.30" stroke="#dcdcdc" stroke-width="0.6" />
<line x1="540.50" y1="166.10" x2="663.60" y2="166.10" stroke="#dcdcdc" stroke-width="0.6" />
<line x1="614.36" y1="133.30" x2="614.36" y2="215.30" stroke="#dcdcdc" stroke-width="0.6" />
<line x1="540.50" y1="182.50" x2="663.60" y2="182.50" stroke="#dcdcdc" stroke-width="0.6" />
<line x1="638.98" y1="133.30" x2="638.98" y2="215.30" stroke="#dcdcdc" stroke-width="0.6" />
<line x1="540.50" y1="198.90" x2="663.60" y2="198.90" stroke="#dcdcdc" stroke-width="0.6" />
<rect x="540.50" y="133.30" width="123.10" height="82.00" fill="none" stroke="#cfcfcf" stroke-width="0.7"/>
<clipPath id="clip540"><rect x="540.5" y="132.70000000000002" width="123.10000000000002" height="82.6"/></clipPath><g clip-path="url(#clip540)">
<line x1="540.50" y1="215.30" x2="663.60" y2="133.30" stroke="#1a1a1a" stroke-width="1.05" stroke-dasharray="1.0 1.5"/>
<path d="M540.50,215.30 L540.50,198.90 L543.82,198.90 L543.82,158.72 L547.89,156.26 L547.89,147.57 L551.58,147.57 L561.55,141.34 L586.29,141.34 L588.02,138.79 L594.54,138.79 L602.05,134.94 L604.51,133.30 L663.60,133.30" fill="none" stroke="#0272a2" stroke-width="1.6"  opacity="1" stroke-linejoin="round"/>
<path d="M604.51,133.30 L663.60,133.30" fill="none" stroke="#9fc377" stroke-width="1.3"  opacity="1" stroke-linejoin="round"/>
<path d="M540.50,215.30 L541.12,194.80 L542.96,180.86 L548.99,167.74 L548.99,164.46 L553.06,164.46 L553.06,148.22 L555.89,148.22 L555.89,144.45 L560.93,144.45 L560.93,139.37 L573.98,139.37 L578.05,136.42 L600.82,136.17 L602.05,135.60 L641.44,135.60 L641.69,133.30 L663.60,133.30" fill="none" stroke="#9fc377" stroke-width="1.3"  opacity="1" stroke-linejoin="round"/>
<path d="M540.50,215.30 L541.73,190.70 L544.19,174.30 L548.26,160.03 L552.69,153.31 L555.27,147.24 L558.97,142.73 L563.89,140.27 L577.43,138.63 L589.74,136.58 L602.05,134.53 L641.44,134.12 L642.67,133.30 L663.60,133.30" fill="none" stroke="#9fc377" stroke-width="1.25" stroke-dasharray="3.4 1.5" opacity="0.95" stroke-linejoin="round"/>
<path d="M540.50,215.30 L542.35,192.34 L545.42,174.30 L549.12,162.00 L551.58,153.80 L554.04,148.06 L558.97,143.14 L565.12,139.86 L581.12,138.22 L595.89,136.17 L604.51,134.78 L641.44,134.45 L641.44,133.30 L663.60,133.30" fill="none" stroke="#9fc377" stroke-width="1.25" stroke-dasharray="3.4 1.5" opacity="0.95" stroke-linejoin="round"/>
</g>
<text transform="translate(536.30,217.50) scale(0.805,1)" font-size="6.1" text-anchor="end" fill="#2a2a2a" >0.0</text>
<text transform="translate(540.50,224.50) scale(0.805,1)" font-size="6.1" text-anchor="middle" fill="#2a2a2a" >0.0</text>
<text transform="translate(536.30,201.10) scale(0.805,1)" font-size="6.1" text-anchor="end" fill="#2a2a2a" >0.2</text>
<text transform="translate(565.12,224.50) scale(0.805,1)" font-size="6.1" text-anchor="middle" fill="#2a2a2a" >0.2</text>
<text transform="translate(536.30,184.70) scale(0.805,1)" font-size="6.1" text-anchor="end" fill="#2a2a2a" >0.4</text>
<text transform="translate(589.74,224.50) scale(0.805,1)" font-size="6.1" text-anchor="middle" fill="#2a2a2a" >0.4</text>
<text transform="translate(536.30,168.30) scale(0.805,1)" font-size="6.1" text-anchor="end" fill="#2a2a2a" >0.6</text>
<text transform="translate(614.36,224.50) scale(0.805,1)" font-size="6.1" text-anchor="middle" fill="#2a2a2a" >0.6</text>
<text transform="translate(536.30,151.90) scale(0.805,1)" font-size="6.1" text-anchor="end" fill="#2a2a2a" >0.8</text>
<text transform="translate(638.98,224.50) scale(0.805,1)" font-size="6.1" text-anchor="middle" fill="#2a2a2a" >0.8</text>
<text transform="translate(536.30,135.50) scale(0.805,1)" font-size="6.1" text-anchor="end" fill="#2a2a2a" >1.0</text>
<text transform="translate(663.60,224.50) scale(0.805,1)" font-size="6.1" text-anchor="middle" fill="#2a2a2a" >1.0</text>
<text transform="translate(602.05,128.50) scale(0.7723924050632912,1)" font-size="7.9" text-anchor="middle" fill="#2a2a2a" >ROC Curves for RandomForestClassifier</text>
<text transform="translate(602.05,234.28) scale(0.805,1)" font-size="6.9" text-anchor="middle" fill="#2a2a2a" >False Positive Rate</text>
<text transform="translate(523.50,174.30) rotate(-90) scale(1,0.805)" font-size="6.9" text-anchor="middle" fill="#2a2a2a" dy="2.4">True Positive Rate</text>
<rect x="552" y="173.7" width="109" height="39.30000000000001" fill="#ffffff" fill-opacity="0.85" stroke="#ececec" stroke-width="0.5" rx="1"/>
<line x1="554.5" y1="178.5" x2="565.2" y2="178.5" stroke="#0272a2" stroke-width="1.5" />
<text transform="translate(569.20,180.75) scale(0.805,1)" font-size="6.25" text-anchor="start" fill="#2a2a2a" >ROC of class 0, AUC = 0.92</text>
<line x1="554.5" y1="188" x2="565.2" y2="188" stroke="#9fc377" stroke-width="1.4" />
<text transform="translate(569.20,190.25) scale(0.805,1)" font-size="6.25" text-anchor="start" fill="#2a2a2a" >ROC of class 1, AUC = 0.92</text>
<line x1="554.5" y1="197.2" x2="565.2" y2="197.2" stroke="#9fc377" stroke-width="1.15" stroke-dasharray="4.3 1.8"/>
<text transform="translate(569.20,199.45) scale(0.805,1)" font-size="6.25" text-anchor="start" fill="#2a2a2a" >micro-average ROC curve, AUC = 0.92</text>
<line x1="554.5" y1="206.5" x2="565.2" y2="206.5" stroke="#9fc377" stroke-width="1.15" stroke-dasharray="4.3 1.8"/>
<text transform="translate(569.20,208.75) scale(0.805,1)" font-size="6.25" text-anchor="start" fill="#2a2a2a" >macro-average ROC curve, AUC = 0.93</text>
</svg>
</body></html>
